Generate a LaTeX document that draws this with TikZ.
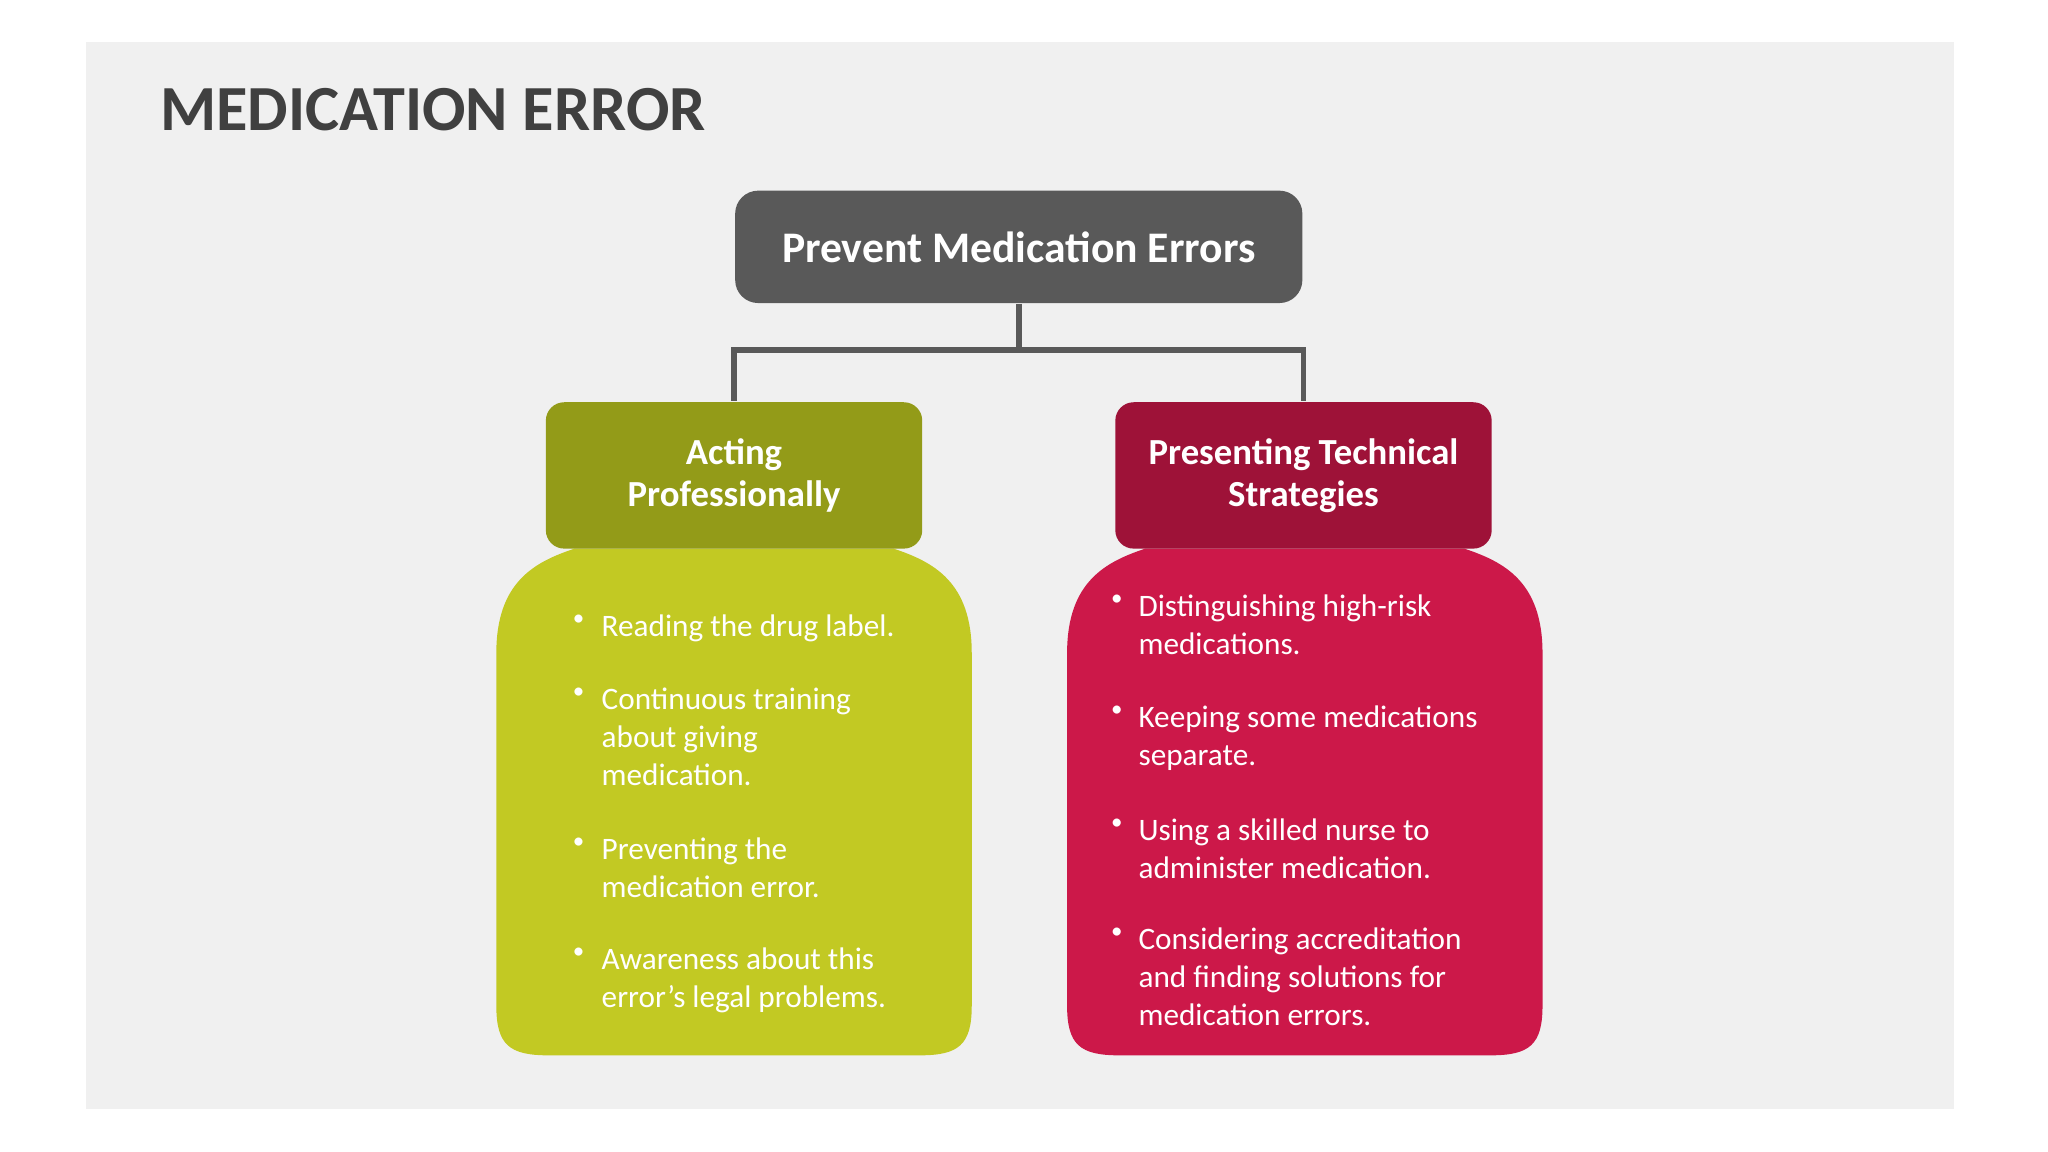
\documentclass[tikz,border=0pt]{standalone}
\usepackage{fontspec}
\setmainfont{Carlito}
\usetikzlibrary{positioning}
\definecolor{panel}{HTML}{F0F0F0}
\definecolor{titlegrey}{HTML}{404040}
\definecolor{boxgrey}{HTML}{595959}
\definecolor{olivedark}{HTML}{939B18}
\definecolor{olivelight}{HTML}{C2C923}
\definecolor{reddark}{HTML}{9E1238}
\definecolor{redlight}{HTML}{CC1849}
\tikzset{
  head/.style={rounded corners=4pt,minimum width=2.88cm,minimum height=1.12cm,
    text=white,font=\bfseries\fontsize{8}{9.2}\selectfont,align=center},
  item/.style={anchor=north west,text=white,align=left,inner sep=0pt,
    font=\fontsize{6.8}{8.25}\selectfont},
  dot/.style={anchor=north,text=white,inner sep=0pt,font=\fontsize{5}{8.25}\selectfont}
}
\newcommand{\bottle}[2]{% left x, colour
  \fill[#2] (#1+60,420) .. controls (#1+30,430) and (#1,445) .. (#1,500)
    -- (#1,770) .. controls (#1,800) and (#1+10,808) .. (#1+40,808)
    -- (#1+324,808) .. controls (#1+354,808) and (#1+364,800) .. (#1+364,770)
    -- (#1+364,500) .. controls (#1+364,445) and (#1+334,430) .. (#1+304,420) -- cycle;}
\begin{document}
\begin{tikzpicture}[x=0.01cm,y=-0.01cm]
  \useasboundingbox (0,0) rectangle (1568,882);
  \fill[white] (0,0) rectangle (1568,882);
  \fill[panel] (66,32) rectangle (1496,849);
  \node[anchor=west,text=titlegrey,font=\bfseries\fontsize{14}{16}\selectfont,inner sep=0pt]
    (title) at (122,84) {MEDICATION ERROR};
  % top box
  \node[fill=boxgrey,rounded corners=5pt,minimum width=4.34cm,minimum height=0.86cm,text=white,
    font=\bfseries\fontsize{9.5}{11}\selectfont] (top) at (780,189) {Prevent Medication Errors};
  % bottles
  \bottle{380}{olivelight}
  \bottle{817}{redlight}
  \node[head,fill=olivedark] (acting) at (562,364) {Acting\\Professionally};
  \node[head,fill=reddark] (tech) at (998,364) {Presenting Technical\\Strategies};
  \coordinate (split) at (780,268);
  \draw[boxgrey,line width=1.3pt] (top.south) -- (split) -| (acting.north);
  \draw[boxgrey,line width=1.3pt] (split) -| (tech.north);
  % left items
  \node[dot] (gd1) at (443,470) {\textbullet};
  \node[item] (g1) at (460,470) {Reading the drug label.};
  \node[dot] (gd2) at (443,526) {\textbullet};
  \node[item] (g2) at (460,526) {Continuous training\\about giving\\medication.};
  \node[dot] (gd3) at (443,641) {\textbullet};
  \node[item] (g3) at (460,641) {Preventing the\\medication error.};
  \node[dot] (gd4) at (443,725) {\textbullet};
  \node[item] (g4) at (460,725) {Awareness about this\\error’s legal problems.};
  % right items
  \node[dot] (rd1) at (855,455) {\textbullet};
  \node[item] (r1) at (871,455) {Distinguishing high-risk\\medications.};
  \node[dot] (rd2) at (855,540) {\textbullet};
  \node[item] (r2) at (871,540) {Keeping some medications\\separate.};
  \node[dot] (rd3) at (855,626) {\textbullet};
  \node[item] (r3) at (871,626) {Using a skilled nurse to\\administer medication.};
  \node[dot] (rd4) at (855,710) {\textbullet};
  \node[item] (r4) at (871,710) {Considering accreditation\\and finding solutions for\\medication errors.};
\end{tikzpicture}
\end{document}
